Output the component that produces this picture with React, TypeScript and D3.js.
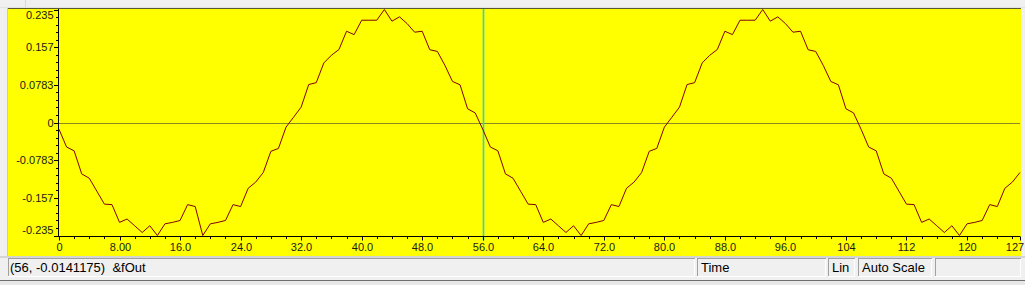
import React from "react";
import * as d3 from "d3";

// ---- data ----
const fOut: number[] = [
  -0.0141, -0.051, -0.059, -0.107, -0.116, -0.143, -0.170, -0.171, -0.208, -0.201,
  -0.215, -0.229, -0.215, -0.2353, -0.211, -0.208, -0.204, -0.171, -0.175, -0.2353,
  -0.211, -0.208, -0.204, -0.171, -0.175, -0.137, -0.124, -0.104, -0.060, -0.054,
  -0.0097, 0.011, 0.032, 0.079, 0.083, 0.124, 0.140, 0.152, 0.190, 0.183,
  0.213, 0.213, 0.213, 0.2353, 0.211, 0.220, 0.206, 0.188, 0.190, 0.1515,
  0.148, 0.119, 0.0855, 0.0785, 0.0285, 0.020, -0.0141, -0.051, -0.059, -0.107,
  -0.116, -0.143, -0.170, -0.171, -0.208, -0.201, -0.215, -0.229, -0.215, -0.2353,
  -0.211, -0.208, -0.204, -0.171, -0.175, -0.137, -0.124, -0.104, -0.060, -0.054,
  -0.0097, 0.011, 0.032, 0.079, 0.083, 0.124, 0.140, 0.152, 0.190, 0.183,
  0.213, 0.213, 0.213, 0.2353, 0.211, 0.220, 0.206, 0.188, 0.190, 0.1515,
  0.148, 0.119, 0.0855, 0.0785, 0.0285, 0.020, -0.0141, -0.051, -0.059, -0.107,
  -0.116, -0.143, -0.170, -0.171, -0.208, -0.201, -0.215, -0.229, -0.215, -0.2353,
  -0.211, -0.208, -0.204, -0.171, -0.175, -0.137, -0.124, -0.104,
];

const xTickValues = [0, 8, 16, 24, 32, 40, 48, 56, 64, 72, 80, 88, 96, 104, 112, 120, 127];
const xTickLabels = ["0", "8.00", "16.0", "24.0", "32.0", "40.0", "48.0", "56.0", "64.0", "72.0", "80.0", "88.0", "96.0", "104", "112", "120", "127"];
const yTickValues = [0.2353, 0.1569, 0.0784, 0, -0.0784, -0.1569, -0.2353];
const yTickLabels = ["0.235", "0.157", "0.0783", "0", "-0.0783", "-0.157", "-0.235"];
const xDomain = [0, 127];
const yDomain = [-0.2353, 0.2353];
const cursorIndex = 56;
const cursorReadout = "(56, -0.0141175)";
const seriesName = "&fOut";
const statusFields = ["Time", "Lin", "Auto Scale", ""];

// ---- layout ----
const W = 1025;
const H = 285;
const plotL = 59;
const plotR = 1020;
const plotT = 9.5;
const plotB = 235.5;
const axisY = 236.5;
const axisX = 58.5;

const FONT = "'Liberation Sans', Arial, sans-serif";

export default function App() {
  const x = d3.scaleLinear().domain(xDomain).range([plotL, plotR]);
  const y = d3.scaleLinear().domain(yDomain).range([plotB, plotT]);
  const line = d3
    .line<number>()
    .x((_, i) => x(i))
    .y((d) => y(d));

  const xMinor = d3.range(0, 128, 2).filter((v) => !xTickValues.includes(v));
  const yStep = 0.0784 / 5;
  const yMinor: number[] = [];
  for (let k = -15; k <= 15; k++) {
    if (k % 5 !== 0) yMinor.push(k * yStep);
  }

  const statusBoxes = [
    { x0: 8, x1: 695 },
    { x0: 697, x1: 826 },
    { x0: 828, x1: 855 },
    { x0: 858, x1: 932 },
    { x0: 935, x1: 1021 },
  ];

  const cx = Math.round(x(cursorIndex)) + 0.5;

  return (
    <svg
      width={W}
      height={H}
      style={{ position: "fixed", left: 0, top: 0, display: "block" }}
      fontFamily={FONT}
    >
      <rect x={0} y={0} width={W} height={H} fill="#f0f0f0" />
      {/* top strip */}
      <line x1={25.5} y1={0} x2={25.5} y2={7} stroke="#d8d8d8" />
      <line x1={0} y1={7.5} x2={W} y2={7.5} stroke="#e3e3e3" />
      {/* left frame line */}
      <line x1={7.5} y1={8} x2={7.5} y2={256} stroke="#c8c8c8" />
      {/* plot background */}
      <rect x={8} y={8} width={1014} height={248} fill="#ffff00" />
      <line x1={8} y1={8.5} x2={1022} y2={8.5} stroke="#5a5a30" strokeWidth={1.2} />
      <rect x={1021} y={8} width={4} height={250} fill="#f0f0f0" />

      {/* zero line */}
      <line x1={axisX} y1={Math.round(y(0)) + 0.5} x2={plotR} y2={Math.round(y(0)) + 0.5} stroke="#8a8a20" />

      {/* cursor */}
      <line x1={cx} y1={9} x2={cx} y2={axisY + 4} stroke="#2ad4d0" strokeWidth={1.6} />

      {/* y axis */}
      <line x1={axisX} y1={9} x2={axisX} y2={axisY + 0.5} stroke="#000" />
      {yMinor.map((v, i) => (
        <line key={"ym" + i} x1={axisX - 2.5} x2={axisX} y1={Math.round(y(v)) + 0.5} y2={Math.round(y(v)) + 0.5} stroke="#000" />
      ))}
      {yTickValues.map((v, i) => {
        const ty = Math.round(y(v)) + 0.5;
        const ly = Math.min(Math.max(ty, plotT + 6), plotB - 5);
        return (
          <g key={"yt" + i}>
            <line x1={axisX - 4.5} x2={axisX} y1={ty} y2={ty} stroke="#000" />
            <text x={axisX - 5} y={ly} dy="0.35em" textAnchor="end" fontSize={11} fill="#1a1a1a">
              {yTickLabels[i]}
            </text>
          </g>
        );
      })}

      {/* x axis */}
      <line x1={axisX} y1={axisY} x2={plotR} y2={axisY} stroke="#000" />
      {xMinor.map((v, i) => (
        <line key={"xm" + i} x1={Math.round(x(v)) + 0.5} x2={Math.round(x(v)) + 0.5} y1={axisY} y2={axisY + 2.5} stroke="#000" />
      ))}
      {xTickValues.map((v, i) => {
        const tx = Math.round(x(v)) + 0.5;
        const lx = Math.min(tx, plotR - 5);
        return (
          <g key={"xt" + i}>
            <line x1={tx} x2={tx} y1={axisY} y2={axisY + 4} stroke="#000" />
            <text x={lx} y={251} textAnchor="middle" fontSize={11} fill="#1a1a1a">
              {xTickLabels[i]}
            </text>
          </g>
        );
      })}

      {/* signal */}
      <path d={line(fOut) || ""} fill="none" stroke="#800000" strokeWidth={1} />

      {/* status bar */}
      <rect x={0} y={256} width={W} height={2} fill="#d4d4d4" />
      {statusBoxes.map((b, i) => (
        <g key={"sb" + i}>
          <line x1={b.x0 + 0.5} y1={259} x2={b.x0 + 0.5} y2={276} stroke="#a0a0a0" />
          <line x1={b.x0} y1={258.5} x2={b.x1} y2={258.5} stroke="#a0a0a0" />
          <line x1={b.x1 - 0.5} y1={259} x2={b.x1 - 0.5} y2={276} stroke="#ffffff" />
          <line x1={b.x0} y1={276.5} x2={b.x1} y2={276.5} stroke="#ffffff" />
        </g>
      ))}
      <text x={10} y={272} fontSize={13} fill="#000" xmlSpace="preserve">
        {cursorReadout + "  " + seriesName}
      </text>
      {statusFields.map((s, i) => (
        <text key={"sf" + i} x={statusBoxes[i + 1].x0 + 4} y={272} fontSize={13} fill="#000">
          {s}
        </text>
      ))}
      <line x1={0} y1={280.5} x2={W} y2={280.5} stroke="#6e6e6e" />
      <rect x={0} y={281} width={W} height={4} fill="#e8e8e8" />
    </svg>
  );
}
